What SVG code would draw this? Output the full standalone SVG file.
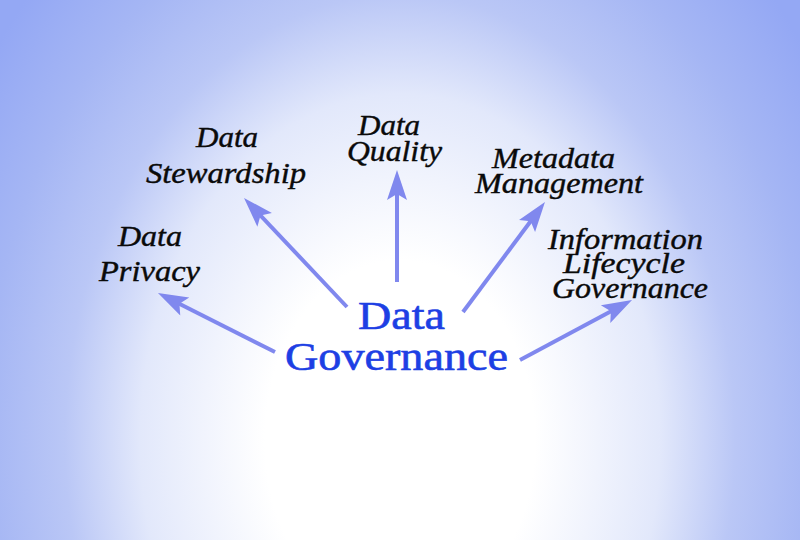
<svg xmlns="http://www.w3.org/2000/svg" width="800" height="540" viewBox="0 0 800 540">
  <defs>
    <radialGradient id="bg" gradientUnits="userSpaceOnUse" cx="400" cy="440" r="500" gradientTransform="translate(400 440) scale(1 1.33) translate(-400 -440)">
      <stop offset="0" stop-color="#ffffff"/>
      <stop offset="0.27" stop-color="#ffffff"/>
      <stop offset="0.52" stop-color="#e2e8fb"/>
      <stop offset="0.67" stop-color="#bac7f6"/>
      <stop offset="0.83" stop-color="#a5b6f4"/>
      <stop offset="1" stop-color="#94a8f4"/>
    </radialGradient>
    <marker id="ah" markerUnits="userSpaceOnUse" markerWidth="30" markerHeight="20" refX="20" refY="10" orient="auto" overflow="visible">
      <path d="M0,0 L30,10 L0,20 L6,10 Z" fill="#8088ee"/>
    </marker>
    <style>
      .lbl { font-family: "Liberation Serif", "Times New Roman", serif; font-style: italic; font-size: 29px; fill: #0a0a0a; stroke: #0a0a0a; stroke-width: 0.4; }
      .main { font-family: "Liberation Serif", "Times New Roman", serif; font-size: 39px; fill: #1d3fe4; stroke: #1d3fe4; stroke-width: 0.6; }
      .arr { stroke: #8088ee; stroke-width: 4; fill: none; marker-end: url(#ah); }
    </style>
  </defs>
  <rect x="0" y="0" width="800" height="540" fill="url(#bg)"/>

  <g id="connectors">
    <line class="arr" x1="275" y1="352" x2="166.9" y2="297.5"/>
    <line class="arr" x1="347" y1="307" x2="250.9" y2="205.3"/>
    <line class="arr" x1="397" y1="282" x2="397" y2="180"/>
    <line class="arr" x1="463" y1="312" x2="539" y2="210"/>
    <line class="arr" x1="520" y1="360" x2="623.2" y2="304.7"/>
  </g>

  <g id="data-governance">
    <text class="main" x="358" y="329" textLength="87" lengthAdjust="spacingAndGlyphs">Data</text>
    <text class="main" x="285" y="370" textLength="223" lengthAdjust="spacingAndGlyphs">Governance</text>
  </g>

  <g id="data-privacy">
    <text class="lbl" x="118" y="246" textLength="64" lengthAdjust="spacingAndGlyphs">Data</text>
    <text class="lbl" x="99" y="281" textLength="101" lengthAdjust="spacingAndGlyphs">Privacy</text>
  </g>

  <g id="data-stewardship">
    <text class="lbl" x="196" y="147" textLength="62" lengthAdjust="spacingAndGlyphs">Data</text>
    <text class="lbl" x="146" y="183" textLength="160" lengthAdjust="spacingAndGlyphs">Stewardship</text>
  </g>

  <g id="data-quality">
    <text class="lbl" x="358" y="135" textLength="62" lengthAdjust="spacingAndGlyphs">Data</text>
    <text class="lbl" x="347" y="161" textLength="95" lengthAdjust="spacingAndGlyphs">Quality</text>
  </g>

  <g id="metadata-management">
    <text class="lbl" x="492" y="168" textLength="123" lengthAdjust="spacingAndGlyphs">Metadata</text>
    <text class="lbl" x="475" y="193" textLength="168" lengthAdjust="spacingAndGlyphs">Management</text>
  </g>

  <g id="information-lifecycle-governance">
    <text class="lbl" x="548" y="249" textLength="155" lengthAdjust="spacingAndGlyphs">Information</text>
    <text class="lbl" x="563" y="273" textLength="122" lengthAdjust="spacingAndGlyphs">Lifecycle</text>
    <text class="lbl" x="552" y="298" textLength="156" lengthAdjust="spacingAndGlyphs">Governance</text>
  </g>
</svg>
